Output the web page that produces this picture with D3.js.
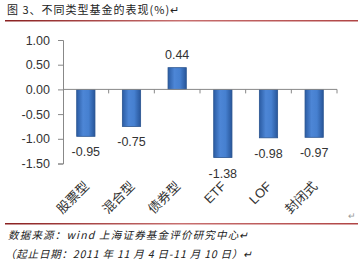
<!DOCTYPE html>
<html><head><meta charset="utf-8">
<script src="https://cdn.jsdelivr.net/npm/d3@7"></script>
<style>
body{margin:0;background:#fff;}
svg{display:block;}
</style></head>
<body>
<script>
const categories = ["股票型","混合型","债券型","ETF","LOF","封闭式"];
const values = [-0.95,-0.75,0.44,-1.38,-0.98,-0.97];
const valueLabels = ["-0.95","-0.75","0.44","-1.38","-0.98","-0.97"];
const yTicks = [1.0,0.5,0.0,-0.5,-1.0,-1.5];
const title = "图 3、不同类型基金的表现(%)↵";
const source1 = "数据来源：wind 上海证券基金评价研究中心↵";
const source2 = "（起止日期：2011 年 11 月 4 日-11 月 10 日）↵";

const W=358,H=272;
const svg=d3.select("body").append("svg").attr("width",W).attr("height",H);
const defs=svg.append("defs");
const g=defs.append("linearGradient").attr("id","barg").attr("x1","0").attr("x2","1").attr("y1","0").attr("y2","0");
g.append("stop").attr("offset","0").attr("stop-color","#2b5ca3");
g.append("stop").attr("offset","0.35").attr("stop-color","#4d86d6");
g.append("stop").attr("offset","0.65").attr("stop-color","#4680d0");
g.append("stop").attr("offset","1").attr("stop-color","#28569a");

// title
svg.append("text").attr("x",7).attr("y",14).attr("font-family","Noto Sans CJK SC").attr("font-size",11).attr("letter-spacing",1).attr("fill","#222").text(title);
const lg=defs.append("linearGradient").attr("id","lineg").attr("x1","0").attr("x2","1");
lg.append("stop").attr("offset","0").attr("stop-color","#8a2020");
lg.append("stop").attr("offset","0.5").attr("stop-color","#c87070");
lg.append("stop").attr("offset","1").attr("stop-color","#b04545");
svg.append("rect").attr("x",5).attr("y",20).attr("width",353).attr("height",1.5).attr("fill","url(#lineg)");
svg.append("rect").attr("x",5).attr("y",223).attr("width",353).attr("height",1.5).attr("fill","url(#lineg)");

const y=d3.scaleLinear().domain([-1.5,1.0]).range([163.5,40]);
const x=d3.scaleBand().domain(categories).range([63,337]).paddingInner(0.6).paddingOuter(0.3);
const xb=d3.scaleBand().domain(categories).range([63,337]);

const axisColor="#888";
// y axis
const ya=svg.append("g").attr("transform","translate(63,0)").call(d3.axisLeft(y).tickValues(yTicks).tickFormat(d3.format(".2f")).tickSize(5).tickPadding(8));
ya.select(".domain").attr("stroke",axisColor);
ya.selectAll(".tick line").attr("stroke",axisColor);
ya.selectAll(".tick text").attr("font-family","Liberation Sans, Arial").attr("font-size",12.5).attr("fill","#333").text(d=>d3.format(".2f")(d).replace("−","-"));

// bars
svg.selectAll("rect.bar").data(values).enter().append("rect").attr("class","bar")
 .attr("x",(d,i)=>x(categories[i])).attr("width",x.bandwidth())
 .attr("y",d=>y(Math.max(0,d))).attr("height",d=>Math.abs(y(d)-y(0)))
 .attr("fill","url(#barg)").attr("stroke","#2a5490").attr("stroke-width",0.8);

// zero axis
svg.append("line").attr("x1",63).attr("x2",337).attr("y1",y(0)).attr("y2",y(0)).attr("stroke",axisColor);
svg.selectAll("line.ct").data(categories).enter().append("line").attr("class","ct")
 .attr("x1",d=>xb(d)+xb.bandwidth()).attr("x2",d=>xb(d)+xb.bandwidth())
 .attr("y1",y(0)).attr("y2",y(0)+4).attr("stroke",axisColor);

// value labels
svg.selectAll("text.vl").data(values).enter().append("text").attr("class","vl")
 .attr("x",(d,i)=>x(categories[i])+x.bandwidth()/2)
 .attr("y",d=>d>=0? y(d)-9 : y(d)+20)
 .attr("text-anchor","middle").attr("font-family","Liberation Sans, Arial").attr("font-size",12.5).attr("fill","#333")
 .text((d,i)=>valueLabels[i]);

// category labels
svg.selectAll("text.cl").data(categories).enter().append("text").attr("class","cl")
 .attr("transform",d=>`translate(${x(d)+x.bandwidth()/2+4},${187}) rotate(-45)`)
 .attr("text-anchor","end").attr("font-family",d=>/[A-Z]/.test(d)?"Liberation Sans, Arial":"Noto Sans CJK SC")
 .attr("font-size",13).attr("fill","#333").text(d=>d);

svg.append("text").attr("x",348).attr("y",219).attr("font-size",9).attr("fill","#999").text("↵");

// source
svg.append("text").attr("x",8).attr("y",239).attr("font-family","Noto Sans CJK SC").attr("font-size",10.5).attr("letter-spacing",1.2).attr("font-style","italic").attr("fill","#222").text(source1);
svg.append("text").attr("x",5).attr("y",258).attr("font-family","Noto Sans CJK SC").attr("font-size",10.5).attr("letter-spacing",0.8).attr("font-style","italic").attr("fill","#222").text(source2);
</script>
</body></html>
